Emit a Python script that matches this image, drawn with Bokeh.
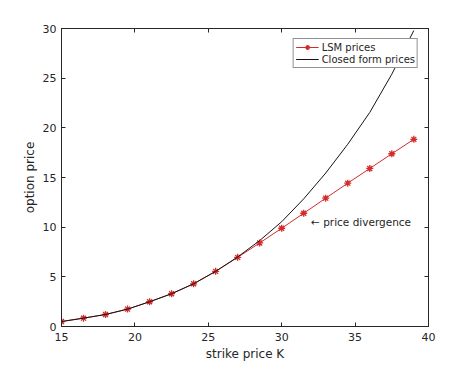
from bokeh.plotting import figure
from bokeh.models import LinearAxis, FixedTicker, Range1d, Legend, LegendItem, Label
from bokeh.embed import file_html
from bokeh.resources import INLINE

# ---- data ----
strike = [15, 16.5, 18, 19.5, 21, 22.5, 24, 25.5, 27, 28.5, 30, 31.5, 33, 34.5, 36, 37.5, 39]
lsm_prices = [0.50, 0.84, 1.21, 1.75, 2.49, 3.30, 4.30, 5.55, 6.96, 8.41, 9.89,
              11.40, 12.92, 14.43, 15.91, 17.39, 18.84]
closed_prices = [0.50, 0.84, 1.21, 1.75, 2.49, 3.30, 4.30, 5.55, 7.00, 8.65, 10.55,
                 12.85, 15.45, 18.35, 21.55, 25.40, 29.80]
x_ticks = [15, 20, 25, 30, 35, 40]
y_ticks = [0, 5, 10, 15, 20, 25, 30]
series_labels = ["LSM prices", "Closed form prices"]
annotation_text = "\u2190 price divergence"
annotation_pos = (32.0, 10.5)
x_label = "strike price K"
y_label = "option price"

FONT = "DejaVu Sans"
AX = "#262626"
RED = "#d42a2a"

p = figure(width=466, height=365, output_backend="svg", toolbar_location=None,
           x_range=Range1d(15, 40), y_range=Range1d(0, 30),
           min_border_left=61, min_border_right=38, min_border_top=28, min_border_bottom=39,
           background_fill_color="white", border_fill_color="white")
p.xgrid.visible = False
p.ygrid.visible = False
p.outline_line_color = AX
p.outline_line_width = 1

def style_axis(ax, ticks, show_labels=True):
    ax.ticker = FixedTicker(ticks=ticks)
    ax.major_tick_in = 4
    ax.major_tick_out = 0
    ax.minor_tick_in = 0
    ax.minor_tick_out = 0
    ax.axis_line_color = AX
    ax.major_tick_line_color = AX
    ax.major_label_text_font = FONT
    ax.major_label_text_font_size = "11px"
    ax.major_label_text_color = AX
    ax.axis_label_text_font = FONT
    ax.axis_label_text_font_size = "12px"
    ax.axis_label_text_font_style = "normal"
    ax.axis_label_text_color = AX
    if not show_labels:
        ax.major_label_overrides = {t: "" for t in ticks}

style_axis(p.xaxis[0], x_ticks)
style_axis(p.yaxis[0], y_ticks)
p.xaxis[0].axis_label = x_label
p.yaxis[0].axis_label = y_label
p.xaxis[0].major_label_standoff = 6
p.yaxis[0].major_label_standoff = 5
p.xaxis[0].axis_label_standoff = 3
p.yaxis[0].axis_label_standoff = 3

top_ax = LinearAxis()
style_axis(top_ax, x_ticks, show_labels=False)
p.add_layout(top_ax, "above")
right_ax = LinearAxis()
style_axis(right_ax, y_ticks, show_labels=False)
p.add_layout(right_ax, "right")

r_line = p.line(strike, lsm_prices, line_color=RED, line_width=1)
r_pts = p.scatter(strike, lsm_prices, marker="asterisk", size=7, line_color=RED, line_width=1.3)
b_line = p.line(strike, closed_prices, line_color="#151515", line_width=1)

legend = Legend(items=[LegendItem(label=series_labels[0], renderers=[r_line, r_pts]),
                       LegendItem(label=series_labels[1], renderers=[b_line])],
                location="top_right")
legend.margin = 10
legend.padding = 2
legend.spacing = 0
legend.glyph_width = 23
legend.glyph_height = 12
legend.label_height = 12
legend.label_standoff = 3
legend.label_text_font = FONT
legend.label_text_font_size = "10px"
legend.label_text_color = AX
legend.border_line_color = AX
legend.border_line_width = 1
legend.background_fill_color = "white"
legend.background_fill_alpha = 1
p.add_layout(legend)

lab = Label(x=annotation_pos[0], y=annotation_pos[1], text=annotation_text,
            text_align="left", text_baseline="middle",
            text_font=FONT, text_font_size="10.5px", text_color=AX)
p.add_layout(lab)

open("out.html", "w").write(file_html(p, INLINE))
